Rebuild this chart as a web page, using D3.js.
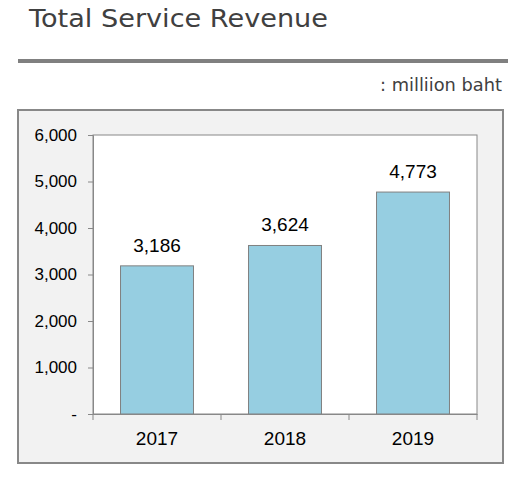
<!DOCTYPE html>
<html>
<head>
<meta charset="utf-8">
<script src="https://cdn.jsdelivr.net/npm/d3@7"></script>
<style>
  body { margin: 0; background: #fff; }
  svg { display: block; }
</style>
</head>
<body>
<svg id="chart"></svg>
<script>
// values
const years = ["2017", "2018", "2019"];
const revenue = [3186, 3624, 4773];
const yTicks = [0, 1000, 2000, 3000, 4000, 5000, 6000];

const W = 522, H = 481;
const plot = { left: 93, top: 135, right: 477, bottom: 414 };

const svg = d3.select("#chart").attr("width", W).attr("height", H);

// header
svg.append("text")
    .attr("x", 29).attr("y", 27)
    .attr("font-family", "'DejaVu Sans', sans-serif")
    .attr("font-size", 25)
    .attr("fill", "#404040")
    .attr("textLength", 299).attr("lengthAdjust", "spacingAndGlyphs")
    .text("Total Service Revenue");

svg.append("rect")
    .attr("x", 18).attr("y", 59).attr("width", 490).attr("height", 4)
    .attr("fill", "#808080");

svg.append("text")
    .attr("x", 502).attr("y", 91)
    .attr("text-anchor", "end")
    .attr("font-family", "'DejaVu Sans', sans-serif")
    .attr("font-size", 17)
    .attr("fill", "#404040")
    .attr("textLength", 122).attr("lengthAdjust", "spacingAndGlyphs")
    .text(": milliion baht");

// outer frame
svg.append("rect")
    .attr("x", 18).attr("y", 110).attr("width", 485).attr("height", 353)
    .attr("fill", "#f2f2f2")
    .attr("stroke", "#888").attr("stroke-width", 2);

const x = d3.scaleBand().domain(years).range([plot.left, plot.right]).paddingInner(0.43).paddingOuter(0.215);
const xb = d3.scaleBand().domain(years).range([plot.left, plot.right]);
const y = d3.scaleLinear().domain([0, 6000]).range([plot.bottom, plot.top]);

// plot area
svg.append("rect")
    .attr("x", plot.left).attr("y", plot.top)
    .attr("width", plot.right - plot.left).attr("height", plot.bottom - plot.top)
    .attr("fill", "#fff")
    .attr("stroke", "#888").attr("stroke-width", 1);

svg.append("g")
    .selectAll("rect")
    .data(years)
    .join("rect")
    .attr("x", d => x(d))
    .attr("y", (d, i) => y(revenue[i]))
    .attr("width", x.bandwidth())
    .attr("height", (d, i) => y(0) - y(revenue[i]))
    .attr("fill", "#96cee1")
    .attr("stroke", "#808080").attr("stroke-width", 1);

svg.append("g")
    .selectAll("text")
    .data(years)
    .join("text")
    .attr("x", d => x(d) + x.bandwidth() / 2)
    .attr("y", (d, i) => y(revenue[i]) - 14)
    .attr("text-anchor", "middle")
    .attr("font-family", "Arial, 'Liberation Sans', sans-serif")
    .attr("font-size", 19)
    .attr("fill", "#000")
    .text((d, i) => d3.format(",")(revenue[i]));

// y axis
const yAxis = svg.append("g")
    .attr("transform", `translate(${plot.left},0)`)
    .call(d3.axisLeft(y).tickValues(yTicks).tickSize(5).tickPadding(11)
        .tickFormat(d => d === 0 ? "-" : d3.format(",")(d)));
yAxis.select(".domain").attr("stroke", "#888");
yAxis.selectAll(".tick line").attr("stroke", "#888");
yAxis.selectAll("text")
    .attr("font-family", "Arial, 'Liberation Sans', sans-serif")
    .attr("font-size", 17)
    .attr("fill", "#000");

// x axis, ticks on category boundaries
const xAxis = svg.append("g")
    .attr("transform", `translate(0,${plot.bottom})`)
    .call(d3.axisBottom(xb).tickSize(0).tickPadding(18));
xAxis.select(".domain").attr("stroke", "#888");
xAxis.selectAll("text")
    .attr("font-family", "Arial, 'Liberation Sans', sans-serif")
    .attr("font-size", 19)
    .attr("fill", "#000");
xAxis.selectAll(".bound")
    .data([...years.map(d => xb(d)), plot.right])
    .join("line")
    .attr("class", "bound")
    .attr("x1", d => d).attr("x2", d => d)
    .attr("y1", 0).attr("y2", 6)
    .attr("stroke", "#888");
</script>
</body>
</html>
